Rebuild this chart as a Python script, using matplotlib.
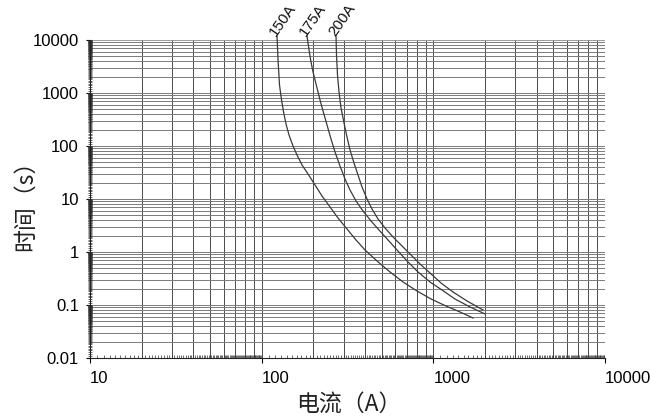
import numpy as np
import matplotlib

matplotlib.use("Agg")
import matplotlib.pyplot as plt
from matplotlib.ticker import LogLocator, NullFormatter

# --- Data: time-current curves (current in A, time in s) ---
RATINGS = ["150A", "175A", "200A"]

I_150 = [122.8, 124.5, 127.0, 130.5, 134.1, 138.6, 144.3, 152.2, 160.6, 171.8, 186.2, 204.5, 224.6,
         250.1, 278.4, 314.1, 354.4, 399.9, 469.7, 559.3, 665.9, 803.4, 969.1, 1185, 1430, 1702]
T_150 = [11900, 4195, 1416, 737.9, 437.9, 260.1, 161.3, 100, 67.66, 43.79, 29.64, 18.37, 11.39,
         7.065, 4.379, 2.716, 1.684, 1.091, 0.6765, 0.4194, 0.2716, 0.1837, 0.1298, 0.0957, 0.0738, 0.0568]

I_175 = [183.7, 188.7, 193.8, 199.1, 210.1, 218.7, 227.7, 240.2, 253.4, 267.4, 285.9, 305.8, 327.0,
         354.4, 389.3, 433.5, 482.5, 544.4, 614.3, 702.5, 814.3, 956.2, 1123, 1337, 1635, 2000]
T_175 = [11900, 6476, 3845, 2490, 1243, 737.9, 457.4, 249.0, 135.6, 77.04, 41.95, 23.84, 14.78,
         9.168, 5.936, 3.845, 2.601, 1.684, 1.091, 0.6765, 0.4194, 0.2716, 0.1919, 0.1298, 0.0917, 0.0677]

I_200 = [271.0, 272.8, 276.5, 282.1, 289.8, 301.7, 314.1, 327.0, 345.0, 364.0, 384.1, 410.8,
         439.3, 476.1, 523.1, 582.3, 648.2, 731.3, 836.4, 956.2, 1108, 1302, 1571, 1947]
T_200 = [11900, 5212, 2186, 1044, 521.2, 271.6, 147.8, 84.04, 47.78, 28.37, 16.84, 10.0,
         6.476, 4.195, 2.837, 1.919, 1.356, 0.9169, 0.5938, 0.4016, 0.2601, 0.1759, 0.1190, 0.0805]

X_TICKS = [10, 100, 1000, 10000]
X_TICK_LABELS = ["10", "100", "1000", "10000"]
Y_TICKS = [0.01, 0.1, 1, 10, 100, 1000, 10000]
Y_TICK_LABELS = ["0.01", "0.1", "1", "10", "100", "1000", "10000"]

CJK = ["Noto Sans CJK SC", "DejaVu Sans"]
NUM_FONT = "Liberation Sans"

fig = plt.figure(figsize=(6.5, 4.19), dpi=100, facecolor="white")
ax = fig.add_axes([0.1385, 0.1456, 0.7923, 0.7589])
ax.set_xscale("log")
ax.set_yscale("log")
ax.set_xlim(10, 10000)
ax.set_ylim(0.01, 10000)

# --- Grid: every 1..9 step of each decade ---
for e in range(1, 4):
    for m in range(1, 10):
        ax.axvline(m * 10**e, color="#4a4a4a", lw=0.7, zorder=1)
ax.axvline(10000, color="#4a4a4a", lw=0.7, zorder=1)
for e in range(-2, 4):
    for m in range(1, 10):
        ax.axhline(m * 10.0**e, color="#7a7a7a", lw=0.7, zorder=1)
ax.axhline(10000, color="#9a9a9a", lw=0.7, zorder=1)

# --- Curves ---
for name, xs, ys in [("150A", I_150, T_150), ("175A", I_175, T_175), ("200A", I_200, T_200)]:
    ax.plot(xs, ys, color="#3a3a3a", lw=0.9, zorder=3, clip_on=False)
    ax.annotate(
        name,
        xy=(xs[0], ys[0]),
        xytext=(4.5, 11.5),
        textcoords="offset points",
        rotation=55,
        ha="center",
        va="center",
        fontsize=11,
        family=NUM_FONT,
        color="#111111",
        annotation_clip=False,
    )

# --- Ticks ---
ax.set_xticks(X_TICKS)
ax.set_xticklabels(X_TICK_LABELS, ha="left", family=NUM_FONT, fontsize=12)
ax.set_yticks(Y_TICKS)
ax.set_yticklabels(Y_TICK_LABELS, family=NUM_FONT, fontsize=12)

fine = np.arange(1.1, 10.0, 0.1)
ax.xaxis.set_minor_locator(LogLocator(base=10, subs=fine, numticks=100))
ax.yaxis.set_minor_locator(LogLocator(base=10, subs=fine, numticks=100))
ax.xaxis.set_minor_formatter(NullFormatter())
ax.yaxis.set_minor_formatter(NullFormatter())

ax.tick_params(axis="x", which="major", direction="out", length=3.6, width=0.8, pad=5.5)
ax.tick_params(axis="x", which="minor", direction="in", length=2.2, width=0.5, color="#333333")
ax.tick_params(axis="y", which="major", direction="out", length=3, width=0.8, pad=5)
ax.tick_params(axis="y", which="minor", direction="inout", length=2.5, width=0.5, color="#333333")

for s in ["top", "right"]:
    ax.spines[s].set_visible(False)
for s in ["left", "bottom"]:
    ax.spines[s].set_linewidth(0.8)
    ax.spines[s].set_color("#222222")

# --- Axis titles ---
fig.text(25 / 650, 1 - 200 / 419, "时间（s）", rotation=90, ha="center", va="center",
         fontsize=16.5, family=CJK, color="#222222")
fig.text(349 / 650, 1 - 404 / 419, "电流（A）", ha="center", va="center",
         fontsize=16.5, family=CJK, color="#222222")

fig.savefig("out.png", dpi=100, facecolor="white")
